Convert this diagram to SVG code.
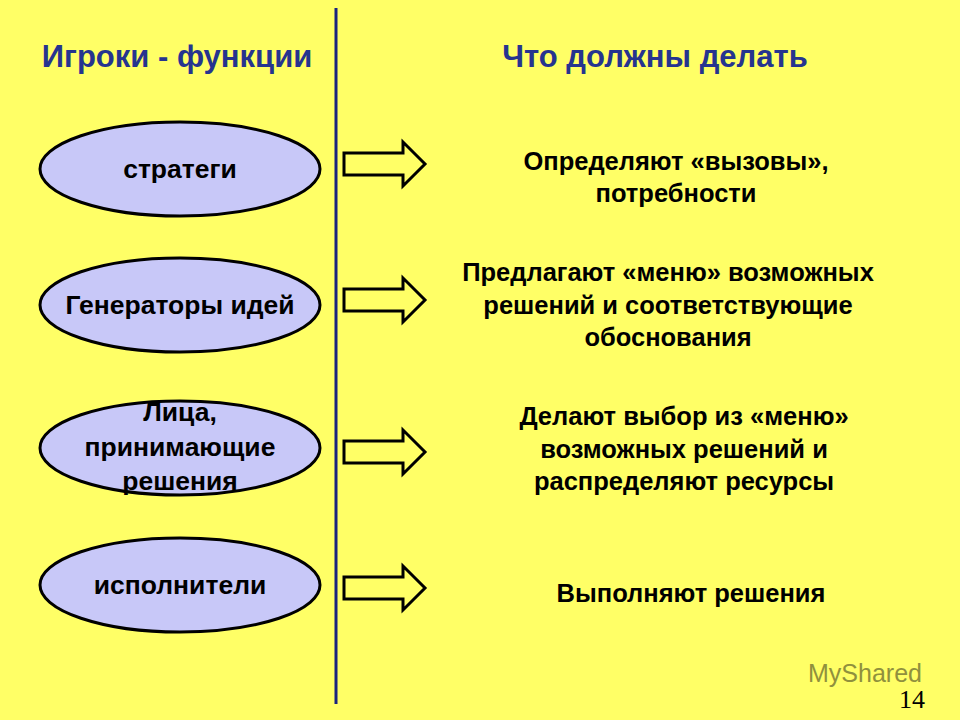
<svg xmlns="http://www.w3.org/2000/svg" width="960" height="720" viewBox="0 0 960 720">
<style>
.t{font-family:"Liberation Sans",Arial,sans-serif;font-weight:bold;fill:#000;text-anchor:middle;font-size:26.5px}
.b{font-size:25.5px}
.h{font-family:"Liberation Sans",Arial,sans-serif;font-weight:bold;fill:#26348f;font-size:31px;text-anchor:middle}
.e{fill:#c8c8f8;stroke:#000;stroke-width:3}
.a{fill:#ffff66;stroke:#000;stroke-width:3}
</style>
<defs><path id="arr" class="a" d="M0,-11 H59 V-22 L81,0 L59,22 V11 H0 Z"/></defs>
<rect width="960" height="720" fill="#ffff66"/>
<text class="h" x="177" y="67">Игроки - функции</text>
<text class="h" x="655" y="67">Что должны делать</text>
<line x1="336" y1="8" x2="336" y2="704" stroke="#1a237e" stroke-width="3"/>
<g id="n1"><ellipse class="e" cx="180" cy="169" rx="140" ry="47"/><text class="t" x="180" y="178">стратеги</text></g>
<g id="n2"><ellipse class="e" cx="180" cy="305" rx="140" ry="47"/><text class="t" x="180" y="314">Генераторы идей</text></g>
<g id="n3"><ellipse class="e" cx="180" cy="448" rx="140" ry="47"/><text class="t" x="180" y="421">Лица,</text><text class="t" x="180" y="456">принимающие</text><text class="t" x="180" y="490">решения</text></g>
<g id="n4"><ellipse class="e" cx="180" cy="585" rx="140" ry="47"/><text class="t" x="180" y="594">исполнители</text></g>
<g id="connectors">
<use href="#arr" x="344" y="164"/>
<use href="#arr" x="344" y="300"/>
<use href="#arr" x="344" y="452"/>
<use href="#arr" x="344" y="588"/>
</g>
<g id="d1"><text class="t b" x="676" y="170">Определяют «вызовы»,</text><text class="t b" x="676" y="202">потребности</text></g>
<g id="d2"><text class="t b" x="668" y="281">Предлагают «меню» возможных</text><text class="t b" x="668" y="314">решений и соответствующие</text><text class="t b" x="668" y="346">обоснования</text></g>
<g id="d3"><text class="t b" x="684" y="425">Делают выбор из «меню»</text><text class="t b" x="684" y="458">возможных решений и</text><text class="t b" x="684" y="490">распределяют ресурсы</text></g>
<g id="d4"><text class="t b" x="691" y="602">Выполняют решения</text></g>
<text x="808" y="682" font-family="Liberation Sans,Arial,sans-serif" font-size="25" fill="#6b6b30" opacity="0.75">MyShared</text>
<text x="912" y="708" font-family="Liberation Serif,serif" font-size="26" fill="#000" text-anchor="middle">14</text>
</svg>
